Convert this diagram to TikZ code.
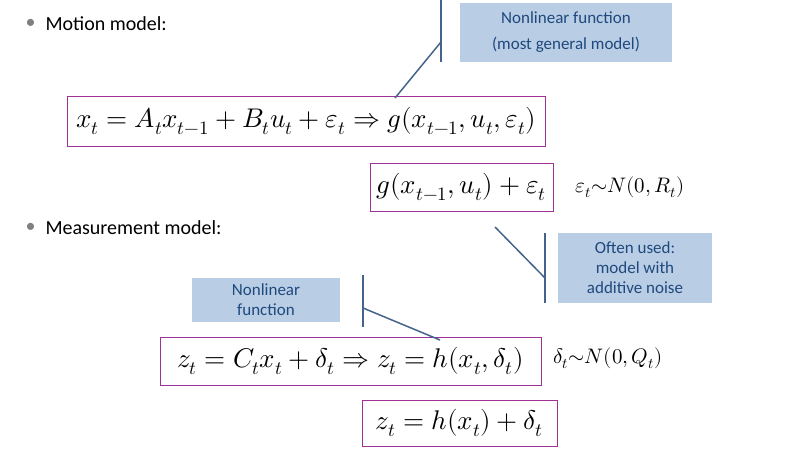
\documentclass[tikz,border=0pt]{standalone}
\usepackage{fontspec}
\usepackage{unicode-math}
\setmainfont{Carlito}
\setmathfont{Latin Modern Math}
\definecolor{callfill}{RGB}{185,205,229}
\definecolor{calltext}{RGB}{31,73,125}
\definecolor{lineblue}{RGB}{68,100,140}
\definecolor{boxpurple}{RGB}{160,50,150}
\begin{document}
\begin{tikzpicture}[x=1pt,y=-1pt,
  eqbox/.style={draw=boxpurple,line width=0.8pt,inner sep=0pt,font=\fontsize{27}{31}\selectfont},
  call/.style={fill=callfill,text=calltext,inner sep=0pt,align=center,font=\fontsize{17}{20}\selectfont},
  lead/.style={draw=lineblue,line width=1.5pt},
  bul/.style={anchor=west,font=\fontsize{20}{23}\selectfont},
  dist/.style={anchor=west,font=\fontsize{21}{24}\selectfont}]
\useasboundingbox (0,0) rectangle (786,455);
% bullets
\node[bul,text=gray] (b1) at (22,24) {\textbullet};
\node[bul] (t1) at (42,24) {Motion model:};
\node[bul,text=gray] (b2) at (22,228) {\textbullet};
\node[bul] (t2) at (42,228) {Measurement model:};
% boxes
\node[eqbox,minimum width=478,minimum height=50] (e1) at (306,121) {$x_t = A_t x_{t-1} + B_t u_t + \varepsilon_t \Rightarrow g(x_{t-1}, u_t, \varepsilon_t)$};
\node[eqbox,minimum width=183,minimum height=48] (e2) at (461.5,187) {$g(x_{t-1}, u_t) + \varepsilon_t$};
\node[dist] (d1) at (572,187) {$\varepsilon_t{\sim}N(0, R_t)$};
\node[eqbox,minimum width=381,minimum height=48] (e3) at (350.5,361) {$z_t = C_t x_t + \delta_t \Rightarrow z_t = h(x_t, \delta_t)$};
\node[dist] (d2) at (550,358) {$\delta_t{\sim}N(0, Q_t)$};
\node[eqbox,minimum width=195,minimum height=46] (e4) at (459.5,423) {$z_t = h(x_t) + \delta_t$};
% callouts
\node[call,minimum width=212,minimum height=59] (c1) at (566,32.5) {Nonlinear function\\[6pt](most general model)};
\node[call,minimum width=154,minimum height=70] (c2) at (635,268) {Often used:\\model with\\additive noise};
\node[call,minimum width=148,minimum height=44] (c3) at (266,300) {Nonlinear\\function};
% leader lines
\coordinate (v1a) at (441,0); \coordinate (v1b) at (441,62); \coordinate (v1m) at (441,42); \coordinate (p1) at (395,98);
\draw[lead] (v1a) -- (v1b); \draw[lead] (v1m) -- (p1);
\coordinate (v2a) at (545,233); \coordinate (v2b) at (545,303); \coordinate (v2m) at (545,278); \coordinate (p2) at (495,227);
\draw[lead] (v2a) -- (v2b); \draw[lead] (v2m) -- (p2);
\coordinate (v3a) at (363,275); \coordinate (v3b) at (363,327); \coordinate (v3m) at (363,308); \coordinate (p3) at (440,340);
\draw[lead] (v3a) -- (v3b); \draw[lead] (v3m) -- (p3);
\end{tikzpicture}
\end{document}
